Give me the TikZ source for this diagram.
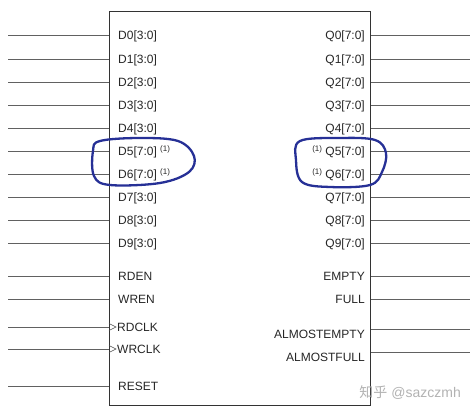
\documentclass[tikz,border=0pt]{standalone}
\usepackage{fontspec}
\setmainfont{Liberation Sans}
\newfontfamily\cjkfont{Noto Sans CJK SC}
\usetikzlibrary{positioning}
\definecolor{ringblue}{RGB}{38,48,150}
\newcommand{\note}{\raisebox{4pt}{\fontsize{8}{8}\selectfont(1)}}
\tikzset{
x=1pt, y=-1pt, % pixel-like coordinates
pinline/.style={draw=black!62, line width=0.9pt}, % the wires going into / out of the block
pinlabel/.style={inner sep=0pt, font=\fontsize{12}{14}\selectfont, text=black!85}, % the port names
ring/.style={draw=ringblue, line width=2.3pt, line join=round}, % the hand drawn circles
}

\begin{document}
\begin{tikzpicture}
    \useasboundingbox (0,0) rectangle (474,411);
    \node[draw=black!80, line width=1.3pt, anchor=north west, inner sep=0pt,
          minimum width=261pt, minimum height=394pt] (fifo) at (109,11) {};

    % inputs
    \foreach \n/\y/\t in {d0/35/D0[3:0], d1/59/D1[3:0], d2/82/D2[3:0], d3/105/D3[3:0],
                          d4/128/D4[3:0], d5/151/D5[7:0] \note, d6/174/D6[7:0] \note,
                          d7/197/D7[3:0], d8/220/D8[3:0], d9/243/D9[3:0],
                          rden/276/RDEN, wren/299/WREN, reset/386/RESET} {
        \node[pinlabel, anchor=base west] (\n) at (118,\y+4.3) {\t};
        \coordinate (\n in) at (8,\y);
        \draw[pinline] (\n in) -- (\n in -| fifo.west);
    }
    \foreach \n/\y/\t in {rdclk/327/RDCLK, wrclk/349/WRCLK} {
        \node[pinlabel, anchor=base west] (\n) at (117,\y+4.3) {\t};
        \coordinate (\n in) at (8,\y);
        \draw[pinline] (\n in) -- (\n in -| fifo.west);
        \draw[black!70, line width=0.6pt] (\n in -| fifo.west) ++(0,-3.5) -- ++(7,3.5) -- ++(-7,3.5);
    }

    % outputs
    \foreach \n/\y/\t in {q0/35/Q0[7:0], q1/59/Q1[7:0], q2/82/Q2[7:0], q3/105/Q3[7:0],
                          q4/128/Q4[7:0], q5/151/\note\ Q5[7:0], q6/174/\note\ Q6[7:0],
                          q7/197/Q7[7:0], q8/220/Q8[7:0], q9/243/Q9[7:0],
                          empty/276/EMPTY, full/299/FULL} {
        \node[pinlabel, anchor=base east] (\n) at (365,\y+4.3) {\t};
        \coordinate (\n out) at (470,\y);
        \draw[pinline] (\n out -| fifo.east) -- (\n out);
    }
    \foreach \n/\y/\t in {aempty/329/ALMOSTEMPTY, afull/352/ALMOSTFULL} {
        \node[pinlabel, anchor=base east] (\n) at (365,\y+10) {\t};
        \coordinate (\n out) at (470,\y);
        \draw[pinline] (\n out -| fifo.east) -- (\n out);
    }

    % marks
    \draw[ring] plot[smooth cycle, tension=0.6] coordinates {(100,141) (140,138) (178,141) (194,156)
        (189,172) (160,183) (110,185) (94,176) (93,151)};
    \draw[ring] plot[smooth cycle, tension=0.6] coordinates {(300,141) (340,138) (375,140) (386,153)
        (382,172) (370,185) (330,187) (302,182) (296,160)};

    \node[anchor=base east, inner sep=0pt, text=black!30, font=\fontsize{14}{16}\selectfont] (mark) at (461,398)
        {{\cjkfont 知乎} @sazczmh};
\end{tikzpicture}
\end{document}
